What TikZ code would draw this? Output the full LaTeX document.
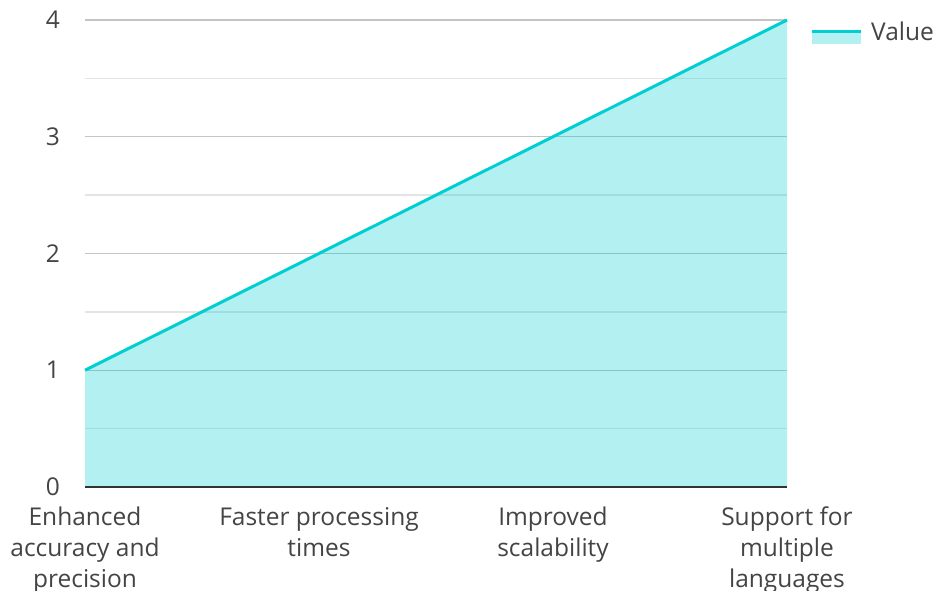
\documentclass[tikz,border=0pt]{standalone}
\usepackage{fontspec}
\setmainfont{Open Sans}
\definecolor{turq}{HTML}{00CED1}
\definecolor{gridmajor}{HTML}{C4C4C4}
\definecolor{gridminor}{HTML}{E4E4E4}
\definecolor{axiscol}{HTML}{333333}
\definecolor{labelcol}{HTML}{444444}
\tikzset{
  ticklabel/.style={font=\fontsize{24.5}{31}\selectfont, text=labelcol, anchor=east, inner sep=0pt},
  catlabel/.style={font=\fontsize{24.5}{31}\selectfont, text=labelcol, align=center, anchor=north, inner sep=0pt},
  majorgrid/.style={draw=gridmajor, line width=1.3pt},
  minorgrid/.style={draw=gridminor, line width=1.3pt},
  series/.style={draw=turq, line width=3pt},
  area/.style={fill=turq, fill opacity=0.3},
}
\begin{document}
\begin{tikzpicture}[x=1pt,y=1pt]
\useasboundingbox (0,0) rectangle (936,591);
% plot frame: x from 85 to 787, value 0 at 104, value 4 at 571
\def\yv#1{104+116.75*#1}
% grid lines
\foreach \v in {0.5,1.5,2.5,3.5}
  \draw[minorgrid] (85,{\yv{\v}}) -- (787,{\yv{\v}});
\foreach \v in {1,2,3,4}
  \draw[majorgrid] (85,{\yv{\v}}) -- (787,{\yv{\v}});
% data points
\coordinate (p1) at (85,{\yv{1}});
\coordinate (p2) at (319,{\yv{2}});
\coordinate (p3) at (553,{\yv{3}});
\coordinate (p4) at (787,{\yv{4}});
\coordinate (b1) at (85,104);
\coordinate (b4) at (787,104);
% filled area and line
\fill[area] (b1) -- (p1) -- (p2) -- (p3) -- (p4) -- (b4) -- cycle;
\draw[series] (p1) -- (p2) -- (p3) -- (p4);
% x axis
\draw[axiscol, line width=2pt] (b1) -- (b4);
% y tick labels
\foreach \v in {0,1,2,3,4}
  \node[ticklabel] (t\v) at (60,{\yv{\v}}) {\v};
% category labels
\node[catlabel] (c1) at (85,84) {Enhanced\\accuracy and\\precision};
\node[catlabel] (c2) at (319,84) {Faster processing\\times};
\node[catlabel] (c3) at (553,84) {Improved\\scalability};
\node[catlabel] (c4) at (787,84) {Support for\\multiple\\languages};
% legend
\coordinate (la) at (812,559);
\coordinate (lb) at (861,559);
\fill[area] (812,547) rectangle (861,558);
\draw[series] (la) -- (lb);
\node[ticklabel, anchor=west] (lv) at (871,560) {Value};
\end{tikzpicture}
\end{document}
